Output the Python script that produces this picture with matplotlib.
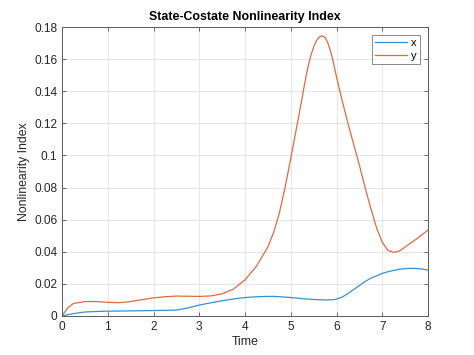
import matplotlib
matplotlib.use("Agg")
import matplotlib.pyplot as plt

plt.rcParams['font.family'] = ['Liberation Sans', 'DejaVu Sans']

time = [0, 0.125, 0.25, 0.5, 0.75, 1.0, 1.25, 1.5, 1.75, 2.0, 2.25, 2.5, 2.75,
        3.0, 3.25, 3.5, 3.75, 4.0, 4.25, 4.5, 4.625, 4.75, 4.875, 5.0, 5.125,
        5.25, 5.3125, 5.375, 5.4375, 5.5, 5.5625, 5.625, 5.6875, 5.75, 5.8125,
        5.875, 5.9375, 6.0, 6.125, 6.25, 6.375, 6.5,
        6.625, 6.75, 6.875, 7.0, 7.125, 7.25, 7.375, 7.5, 7.625, 7.75, 7.875, 8.0]

y_index = [0, 0.005, 0.0078, 0.009, 0.009, 0.0085, 0.0083, 0.009, 0.0102, 0.0113,
           0.012, 0.0124, 0.0123, 0.0122, 0.0125, 0.0138, 0.0168, 0.0225, 0.031,
           0.043, 0.052, 0.064, 0.08, 0.098, 0.117, 0.136, 0.146, 0.155, 0.162,
           0.1675, 0.1715, 0.1738, 0.1745, 0.1735, 0.170, 0.1645, 0.157, 0.149,
           0.134, 0.12, 0.107, 0.094, 0.080, 0.067, 0.055,
           0.046, 0.0408, 0.0396, 0.0405, 0.043, 0.0455, 0.048, 0.0508, 0.0535]

x_index = [0, 0.0008, 0.0015, 0.0025, 0.0028, 0.003, 0.0031, 0.0032, 0.0033, 0.0034,
           0.0035, 0.0037, 0.005, 0.0068, 0.0082, 0.0095, 0.0106, 0.0115, 0.012,
           0.0122, 0.0122, 0.012, 0.0118, 0.0115, 0.0112, 0.0108, 0.0107, 0.0105,
           0.0104, 0.0103, 0.0102, 0.0101, 0.0101, 0.0100, 0.0100, 0.0101, 0.0102,
           0.0105, 0.0118, 0.014, 0.0165, 0.019, 0.0215,
           0.0235, 0.025, 0.0265, 0.0276, 0.0284, 0.0291, 0.0295, 0.0297, 0.0296,
           0.0292, 0.0286]

xticks = [0, 1, 2, 3, 4, 5, 6, 7, 8]
yticks = [0, 0.02, 0.04, 0.06, 0.08, 0.1, 0.12, 0.14, 0.16, 0.18]
ytick_labels = ['0', '0.02', '0.04', '0.06', '0.08', '0.1', '0.12', '0.14', '0.16', '0.18']

fig = plt.figure(figsize=(4.74, 3.55), dpi=100)
ax = fig.add_axes([62/474, 39/355, 366/474, 289/355])

ax.plot(time, x_index, color='#3b8fcc', lw=0.9, label='x')
ax.plot(time, y_index, color='#de6a40', lw=0.9, label='y')

ax.set_xlim(0, 8)
ax.set_ylim(0, 0.18)
ax.set_xticks(xticks)
ax.set_yticks(yticks)
ax.set_yticklabels(ytick_labels)
ax.grid(True, color='#e2e2e2', lw=0.6)
ax.set_axisbelow(True)
ax.tick_params(direction='in', length=3, width=0.6, colors='#555555', labelsize=8.6,
               top=True, right=True, labelcolor='#262626')
for s in ax.spines.values():
    s.set_color('#5a5a5a')
    s.set_linewidth(0.7)

ax.set_xlabel('Time', fontsize=8.8, color='#262626', labelpad=2)
ax.set_ylabel('Nonlinearity Index', fontsize=8.8, color='#262626', labelpad=3)
ax.set_title('State-Costate Nonlinearity Index', fontsize=8.9, fontweight='bold',
             color='black', pad=5)

leg = ax.legend(loc='upper right', fontsize=8, handlelength=2.9, frameon=True,
                fancybox=False, borderpad=0.3, labelspacing=0.25, handletextpad=0.35,
                borderaxespad=0.7)
leg.get_frame().set_edgecolor('#555555')
leg.get_frame().set_linewidth(0.6)

fig.savefig('out.png', dpi=100)
